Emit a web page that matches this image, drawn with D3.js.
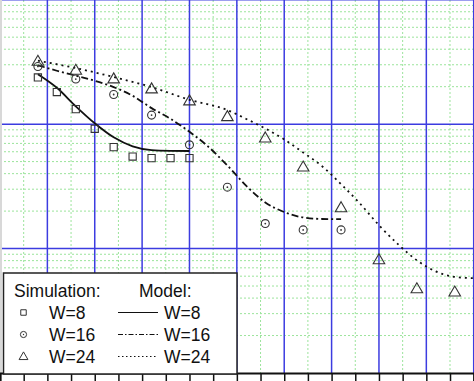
<!DOCTYPE html>
<html><head><meta charset="utf-8">
<script src="https://cdn.jsdelivr.net/npm/d3@7"></script>
<style>body{margin:0;background:#fff}svg{display:block}</style>
</head><body><svg id="c" width="474" height="381"></svg>
<script>
// ---- data ----
const simX8  = [8,12,16,20,24,28,32,36,40];
const simY8  = [0.2372,0.1810,0.1321,0.0917,0.0654,0.0549,0.0533,0.0533,0.0533];
const simX16 = [8,16,24,32,40,48,56,64,72];
const simY16 = [0.2907,0.2303,0.1731,0.1182,0.0682,0.03115,0.01588,0.01413,0.01413];
const simX24 = [8,16,24,32,40,48,56,64,72,80,88,96];
const simY24 = [0.3190,0.2700,0.2303,0.1913,0.1532,0.1145,0.0772,0.0451,0.02123,0.00810,0.00474,0.00446];

const modX8  = [8,12,16,20,24,28,32,36,40];
const modY8  = [0.2518,0.1960,0.1391,0.1016,0.0783,0.0663,0.0618,0.0610,0.0608];
const modX16 = [8,12,16,20,24,28,32,36,40,44,48,52,56,60,64,68,72];
const modY16 = [0.2973,0.2685,0.2447,0.2231,0.1985,0.1690,0.1345,0.1104,0.0868,0.0657,0.0465,0.0319,0.0235,0.01965,0.01778,0.01729,0.01722];
const modX24 = [8,16,24,32,40,48,52,56,60,64,68,72,76,80,84,88,92,96,100];
const modY24 = [0.3232,0.2823,0.2390,0.1985,0.1569,0.1296,0.1100,0.0922,0.0754,0.0591,0.0459,0.0329,0.0230,0.01541,0.01086,0.00804,0.00655,0.00592,0.00578];

const xDomain = [0, 100];
const yDomain = [0.001, 1];
const xMajor = d3.range(0, 101, 10);
const xMinor = d3.range(5, 100, 10);
const xTicks = d3.range(0, 101, 5);
const legendTitles = ["Simulation:", "Model:"];
const legendLabels = ["W=8", "W=16", "W=24"];

// ---- drawing ----
const svg = d3.select("#c");
const x = d3.scaleLinear().domain(xDomain).range([0, 473.7]);
const y = d3.scaleLog().domain(yDomain).range([373, -0.3]);

const gGrid = svg.append("g");
// minor horizontal (log)
const yMinor = [];
[0.001,0.01,0.1].forEach(d => { for (let k=2;k<=9;k++) yMinor.push(d*k); });
gGrid.selectAll(".hm").data(yMinor).join("line")
  .attr("x1",0).attr("x2",474).attr("y1",d=>y(d)).attr("y2",d=>y(d))
  .attr("stroke","#9be49b").attr("stroke-width",1).attr("stroke-dasharray","2,2");
gGrid.selectAll(".vm").data(xMinor).join("line")
  .attr("x1",d=>x(d)).attr("x2",d=>x(d)).attr("y1",0).attr("y2",373)
  .attr("stroke","#9be49b").attr("stroke-width",1).attr("stroke-dasharray","2,2");
gGrid.selectAll(".vM").data(xMajor).join("line")
  .attr("x1",d=>x(d)).attr("x2",d=>x(d)).attr("y1",0).attr("y2",373)
  .attr("stroke","#3c3ce0").attr("stroke-width",1.5);
gGrid.selectAll(".hM").data([0.01,0.1,1]).join("line")
  .attr("x1",0).attr("x2",474).attr("y1",d=>y(d)).attr("y2",d=>y(d))
  .attr("stroke","#3c3ce0").attr("stroke-width",1.5);
svg.append("rect").attr("x",0).attr("y",0).attr("width",2).attr("height",373).attr("fill","#d8d8d8");

// x axis
const xAxis = d3.axisBottom(x).tickValues(xTicks).tickSize(8).tickFormat("");
const ga = svg.append("g").attr("transform","translate(0,373)").call(xAxis);
ga.select(".domain").attr("stroke","#111").attr("stroke-width",2);
ga.selectAll(".tick line").attr("stroke","#111").attr("stroke-width",1.5);

// model lines
const zip = (xs, ys) => xs.map((d,i)=>[d, ys[i]]);
const line = d3.line().x(d=>x(d[0])).y(d=>y(d[1])).curve(d3.curveMonotoneX);
const styles = [
  {dash:null, w:1.8},
  {dash:"7,3,2,3", w:1.8},
  {dash:"2,4", w:1.8}
];
const models = [zip(modX8,modY8), zip(modX16,modY16), zip(modX24,modY24)];
models.forEach((m,i)=>{
  svg.append("path").attr("d",line(m)).attr("fill","none").attr("stroke","#111")
    .attr("stroke-width",styles[i].w).attr("stroke-dasharray",styles[i].dash);
});

// simulation markers
const sims = [zip(simX8,simY8), zip(simX16,simY16), zip(simX24,simY24)];
const shapes = [d3.symbolSquare, d3.symbolCircle, d3.symbolTriangle];
const sizes = [52, 50, 58];
sims.forEach((s,i)=>{
  const g = svg.append("g");
  g.selectAll("path").data(s).join("path")
    .attr("transform",d=>`translate(${x(d[0])},${y(d[1]) + (i===2?0.5:0)})`)
    .attr("d",d3.symbol().type(shapes[i]).size(sizes[i]))
    .attr("fill","none").attr("stroke","#333").attr("stroke-width",1.1);
  if (i===1) g.selectAll("circle").data(s).join("circle")
    .attr("cx",d=>x(d[0])).attr("cy",d=>y(d[1])).attr("r",0.9).attr("fill","#333");
});

// legend
const lg = svg.append("g");
lg.append("rect").attr("x",3.5).attr("y",273).attr("width",233.5).attr("height",101)
  .attr("fill","#fff").attr("stroke","#222").attr("stroke-width",1.5);
const font = "'Liberation Sans', Arial, sans-serif";
lg.append("text").attr("x",14).attr("y",297).text(legendTitles[0])
  .attr("font-family",font).attr("font-size",17.5).attr("fill","#111");
lg.append("text").attr("x",139).attr("y",297).text(legendTitles[1])
  .attr("font-family",font).attr("font-size",17.5).attr("fill","#111");
const rowY = [312.5, 334.5, 356.5];
legendLabels.forEach((lab,i)=>{
  lg.append("path").attr("transform",`translate(23.5,${rowY[i] + (i===2?0.5:0)})`)
    .attr("d",d3.symbol().type(shapes[i]).size([30,30,34][i]))
    .attr("fill","none").attr("stroke","#333").attr("stroke-width",1);
  if (i===1) lg.append("circle").attr("cx",23.5).attr("cy",rowY[i]).attr("r",0.7).attr("fill","#333");
  lg.append("text").attr("x",49).attr("y",rowY[i]+6.3).text(lab)
    .attr("font-family",font).attr("font-size",17.5).attr("fill","#111");
  lg.append("line").attr("x1",118).attr("x2",158).attr("y1",rowY[i]).attr("y2",rowY[i])
    .attr("stroke","#111").attr("stroke-width",1.2).attr("stroke-dasharray",[null,"5,2,1.5,2","1.5,2.5"][i]);
  lg.append("text").attr("x",164).attr("y",rowY[i]+6.3).text(lab)
    .attr("font-family",font).attr("font-size",17.5).attr("fill","#111");
});
</script>
</body></html>
